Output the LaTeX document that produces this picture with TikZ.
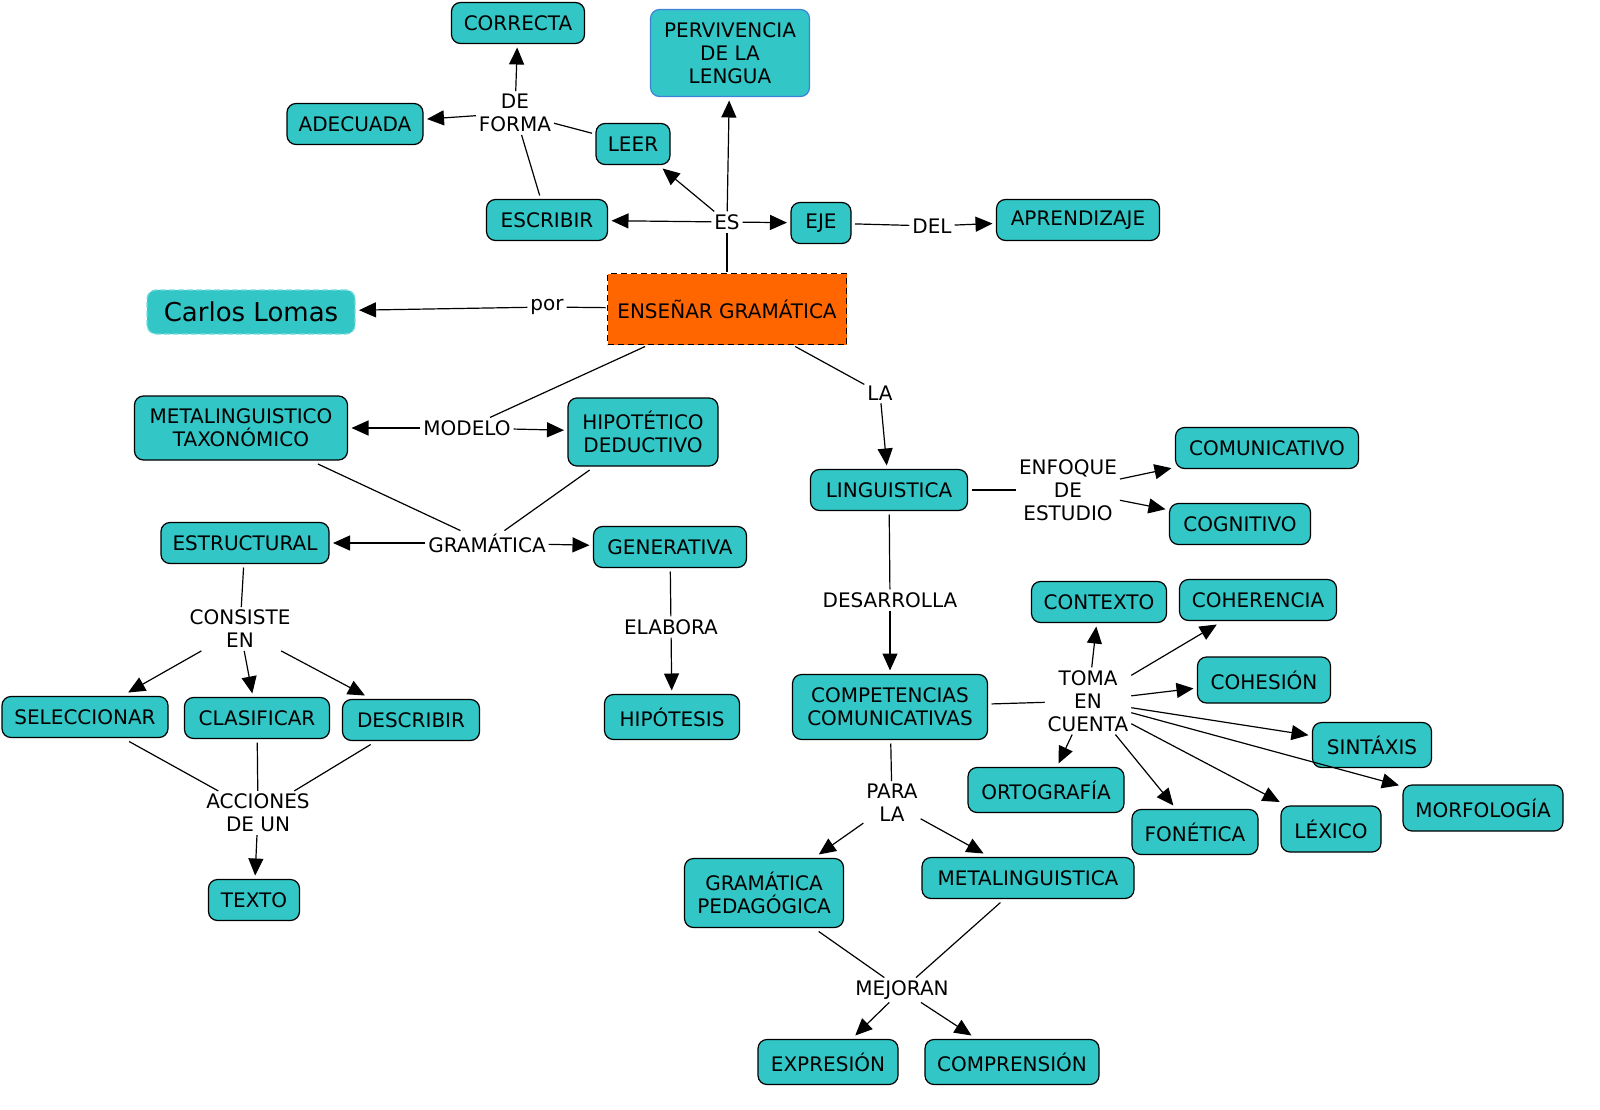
\documentclass[tikz,border=0pt]{standalone}
\usepackage{fontspec}
\setmainfont{DejaVu Sans}
\usetikzlibrary{arrows.meta}
\definecolor{cmapteal}{RGB}{51,198,198}
\definecolor{cmaporange}{RGB}{255,102,0}
\definecolor{cmapblue}{RGB}{60,130,215}
\definecolor{cmapdash}{RGB}{120,220,220}
\begin{document}
\begin{tikzpicture}[x=1pt, y=-1pt, >={Triangle[length=17pt,width=15pt]},
	concept/.style={draw, line width=1.2pt, fill=cmapteal, rounded corners=9pt, align=center,
		font=\fontsize{20}{23}\selectfont, minimum width=#1, minimum height=41pt,
		inner xsep=6pt, inner ysep=4pt, outer sep=4pt},
	concept/.default=60pt,
	phrase/.style={align=center, font=\fontsize{20}{23}\selectfont, inner sep=2pt, outer sep=1pt},
	link/.style={line width=1.2pt}]
		\useasboundingbox (0,0) rectangle (1600,1110);
		% Concepts
		\node[concept=133pt] (Correcta) at (518,23) {CORRECTA};
		\node[concept=159pt, minimum height=87pt, draw=cmapblue] (Pervivencia) at (730,53) {PERVIVENCIA\\DE LA\\LENGUA};
		\node[concept=136pt] (Adecuada) at (355,124) {ADECUADA};
		\node[concept=74pt] (Leer) at (633,144) {LEER};
		\node[concept=121pt] (Escribir) at (547,220) {ESCRIBIR};
		\node[concept=60pt] (Eje) at (821,223) {EJE};
		\node[concept=163pt] (Aprendizaje) at (1078,220) {APRENDIZAJE};
		\node[concept=239pt, minimum height=71pt, fill=cmaporange, rounded corners=0pt, dash pattern=on 6pt off 4pt, outer sep=2pt] (Ensenar) at (727,309) {ENSEÑAR GRAMÁTICA};
		\node[concept=208pt, minimum height=44pt, draw=cmapdash, dash pattern=on 6pt off 3pt, font=\fontsize{26}{30}\selectfont] (Lomas) at (251,312) {Carlos Lomas};
		\node[concept=213pt, minimum height=64pt] (Taxonomico) at (241,428) {METALINGUISTICO\\TAXONÓMICO};
		\node[concept=150pt, minimum height=68pt] (Hipotetico) at (643,432) {HIPOTÉTICO\\DEDUCTIVO};
		\node[concept=157pt] (Linguistica) at (889,490) {LINGUISTICA};
		\node[concept=183pt] (Comunicativo) at (1267,448) {COMUNICATIVO};
		\node[concept=141pt] (Cognitivo) at (1240,524) {COGNITIVO};
		\node[concept=168pt] (Estructural) at (245,543) {ESTRUCTURAL};
		\node[concept=153pt] (Generativa) at (670,547) {GENERATIVA};
		\node[concept=135pt] (Contexto) at (1099,602) {CONTEXTO};
		\node[concept=157pt] (Coherencia) at (1258,600) {COHERENCIA};
		\node[concept=133pt, minimum height=46pt] (Cohesion) at (1264,680) {COHESIÓN};
		\node[concept=195pt, minimum height=65pt] (Competencias) at (890,707) {COMPETENCIAS\\COMUNICATIVAS};
		\node[concept=166pt] (Seleccionar) at (85,717) {SELECCIONAR};
		\node[concept=145pt] (Clasificar) at (257,718) {CLASIFICAR};
		\node[concept=137pt] (Describir) at (411,720) {DESCRIBIR};
		\node[concept=135pt, minimum height=45pt] (Hipotesis) at (672,717) {HIPÓTESIS};
		\node[concept=119pt, minimum height=45pt] (Sintaxis) at (1372,745) {SINTÁXIS};
		\node[concept=156pt, minimum height=45pt] (Ortografia) at (1046,790) {ORTOGRAFÍA};
		\node[concept=160pt, minimum height=46pt] (Morfologia) at (1483,808) {MORFOLOGÍA};
		\node[concept=126pt, minimum height=45pt] (Fonetica) at (1195,832) {FONÉTICA};
		\node[concept=100pt, minimum height=46pt] (Lexico) at (1331,829) {LÉXICO};
		\node[concept=159pt, minimum height=69pt] (Pedagogica) at (764,893) {GRAMÁTICA\\PEDAGÓGICA};
		\node[concept=212pt] (Metalinguistica) at (1028,878) {METALINGUISTICA};
		\node[concept=91pt] (Texto) at (254,900) {TEXTO};
		\node[concept=140pt, minimum height=45pt] (Expresion) at (828,1062) {EXPRESIÓN};
		\node[concept=174pt, minimum height=45pt] (Comprension) at (1012,1062) {COMPRENSIÓN};
		% Linking phrases
		\node[phrase] (De forma) at (515,113) {DE\\FORMA};
		\node[phrase] (Es) at (727,222) {ES};
		\node[phrase] (Del) at (932,226) {DEL};
		\node[phrase] (Por) at (547,307) {por};
		\node[phrase] (Modelo) at (467,428) {MODELO};
		\node[phrase] (La) at (880,393) {LA};
		\node[phrase] (Enfoque) at (1068,490) {ENFOQUE\\DE\\ESTUDIO};
		\node[phrase] (Gramatica) at (487,543) {GRAMÁTICA};
		\node[phrase] (Consiste) at (240,629) {CONSISTE\\EN};
		\node[phrase] (Elabora) at (671,627) {ELABORA};
		\node[phrase] (Desarrolla) at (890,600) {DESARROLLA};
		\node[phrase] (Toma) at (1088,701) {TOMA\\EN\\CUENTA};
		\node[phrase] (Acciones) at (258,813) {ACCIONES\\DE UN};
		\node[phrase] (Para) at (892,803) {PARA\\LA};
		\node[phrase] (Mejoran) at (902,990) {MEJORAN};
		% Arrows
		\draw[link] (Ensenar) -- (Es);
		\draw[link, ->] (Es) -- (Escribir);
		\draw[link, ->] (Es) -- (Leer);
		\draw[link, ->] (Es) -- (Pervivencia);
		\draw[link, ->] (Es) -- (Eje);
		\draw[link] (Eje) -- (Del);
		\draw[link, ->] (Del) -- (Aprendizaje);
		\draw[link] (Escribir) -- (De forma);
		\draw[link] (Leer) -- (De forma);
		\draw[link, ->] (De forma) -- (Correcta);
		\draw[link, ->] (De forma) -- (Adecuada);
		\draw[link] (Ensenar) -- (Por);
		\draw[link, ->] (Por) -- (Lomas);
		\draw[link] (Ensenar) -- (Modelo);
		\draw[link, ->] (Modelo) -- (Taxonomico);
		\draw[link, ->] (Modelo) -- (Hipotetico);
		\draw[link] (Taxonomico) -- (Gramatica);
		\draw[link] (Hipotetico) -- (Gramatica);
		\draw[link, ->] (Gramatica) -- (Estructural);
		\draw[link, ->] (Gramatica) -- (Generativa);
		\draw[link] (Estructural) -- (Consiste);
		\draw[link, ->] (Consiste) -- (Seleccionar);
		\draw[link, ->] (Consiste) -- (Clasificar);
		\draw[link, ->] (Consiste) -- (Describir);
		\draw[link] (Seleccionar) -- (Acciones);
		\draw[link] (Clasificar) -- (Acciones);
		\draw[link] (Describir) -- (Acciones);
		\draw[link, ->] (Acciones) -- (Texto);
		\draw[link] (Generativa) -- (Elabora);
		\draw[link, ->] (Elabora) -- (Hipotesis);
		\draw[link] (Ensenar) -- (La);
		\draw[link, ->] (La) -- (Linguistica);
		\draw[link] (Linguistica) -- (Enfoque);
		\draw[link, ->] (Enfoque) -- (Comunicativo);
		\draw[link, ->] (Enfoque) -- (Cognitivo);
		\draw[link] (Linguistica) -- (Desarrolla);
		\draw[link, ->] (Desarrolla) -- (Competencias);
		\draw[link] (Competencias) -- (Toma);
		\draw[link, ->] (Toma) -- (Contexto);
		\draw[link, ->] (Toma) -- (Coherencia);
		\draw[link, ->] (Toma) -- (Cohesion);
		\draw[link, ->] (Toma) -- (Sintaxis);
		\draw[link, ->] (Toma) -- (Morfologia);
		\draw[link, ->] (Toma) -- (Lexico);
		\draw[link, ->] (Toma) -- (Fonetica);
		\draw[link, ->] (Toma) -- (Ortografia);
		\draw[link] (Competencias) -- (Para);
		\draw[link, ->] (Para) -- (Pedagogica);
		\draw[link, ->] (Para) -- (Metalinguistica);
		\draw[link] (Pedagogica) -- (Mejoran);
		\draw[link] (Metalinguistica) -- (Mejoran);
		\draw[link, ->] (Mejoran) -- (Expresion);
		\draw[link, ->] (Mejoran) -- (Comprension);
	\end{tikzpicture}
\end{document}
